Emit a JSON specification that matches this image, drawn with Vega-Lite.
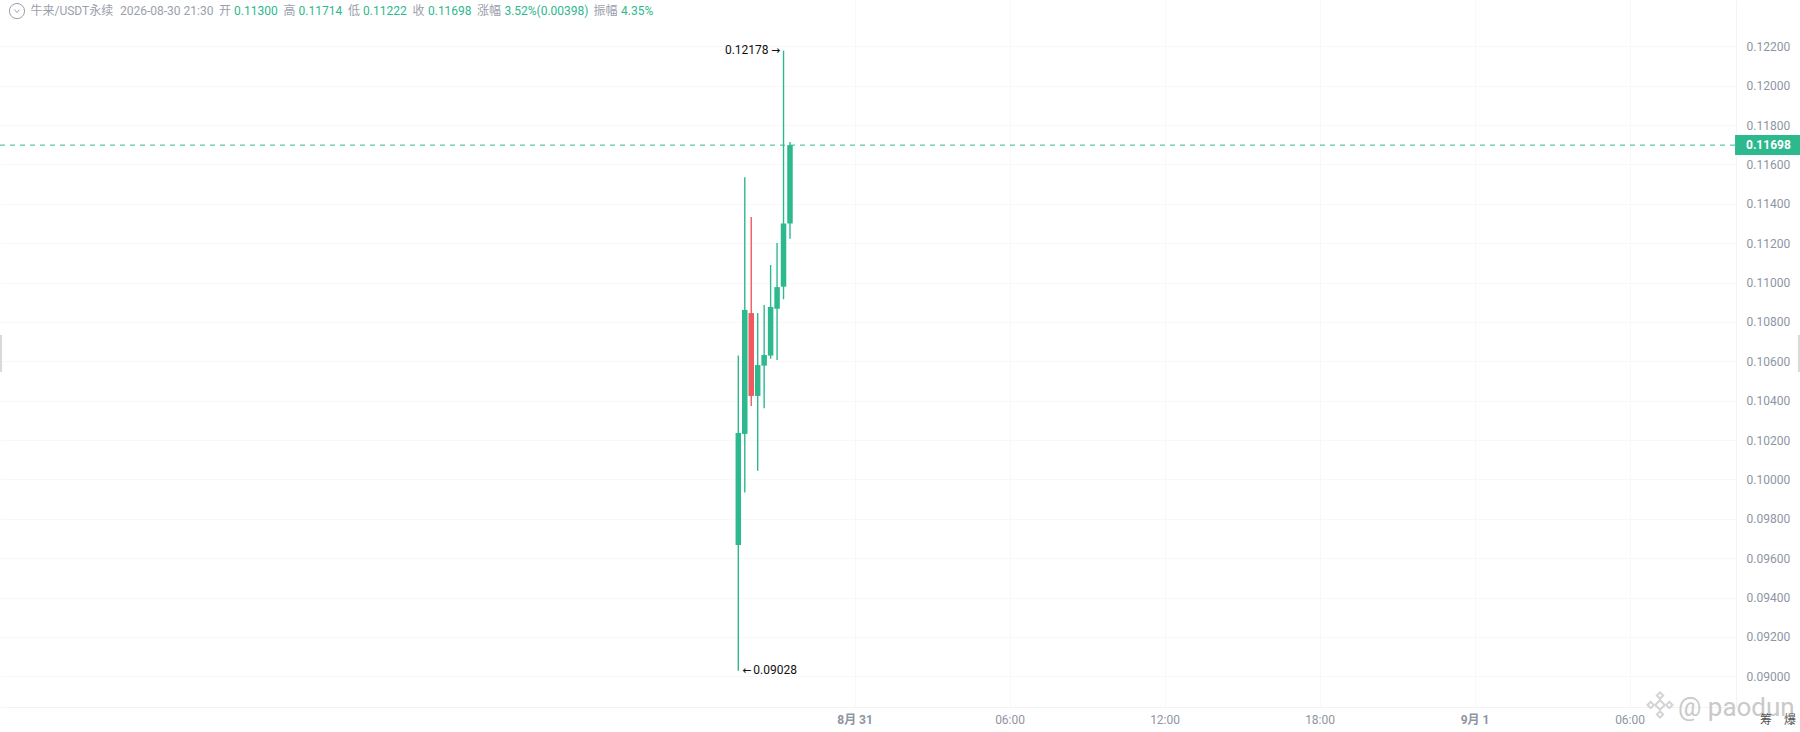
{
  "$schema": "https://vega.github.io/schema/vega-lite/v6.json",
  "description": "15 minute candles for 牛来/USDT perpetual",
  "width": 1736,
  "height": 707,
  "autosize": "none",
  "padding": {"left": 0, "top": 0, "right": 64, "bottom": 25},
  "background": "#ffffff",
  "config": {
    "view": {"stroke": null},
    "font": "Roboto, 'Noto Sans CJK SC'",
    "text": {"font": "Roboto, 'Noto Sans CJK SC'"}
  },
  "datasets": {
    "candles": [
      {"time": "2026-08-30T19:30:00Z", "open": 0.09667, "high": 0.1063, "low": 0.09028, "close": 0.10236, "dir": "up"},
      {"time": "2026-08-30T19:45:00Z", "open": 0.10231, "high": 0.11535, "low": 0.09933, "close": 0.10861, "dir": "up"},
      {"time": "2026-08-30T20:00:00Z", "open": 0.10845, "high": 0.11333, "low": 0.10373, "close": 0.10424, "dir": "down"},
      {"time": "2026-08-30T20:15:00Z", "open": 0.10424, "high": 0.10845, "low": 0.10044, "close": 0.10581, "dir": "up"},
      {"time": "2026-08-30T20:30:00Z", "open": 0.10578, "high": 0.10886, "low": 0.10361, "close": 0.10632, "dir": "up"},
      {"time": "2026-08-30T20:45:00Z", "open": 0.10629, "high": 0.11089, "low": 0.10613, "close": 0.10876, "dir": "up"},
      {"time": "2026-08-30T21:00:00Z", "open": 0.10867, "high": 0.11201, "low": 0.10607, "close": 0.10977, "dir": "up"},
      {"time": "2026-08-30T21:15:00Z", "open": 0.10979, "high": 0.12178, "low": 0.10915, "close": 0.113, "dir": "up"},
      {"time": "2026-08-30T21:30:00Z", "open": 0.113, "high": 0.11714, "low": 0.11222, "close": 0.11698, "dir": "up"}
    ],
    "lastPrice": [
      {"time": "2026-08-29T14:55:12Z", "end": "2026-09-01T10:07:12Z", "price": 0.11698}
    ],
    "blocks": [
      {"time": "2026-09-01T10:05:00Z", "end": "2026-09-01T12:37:00Z", "price": 0.117495, "price2": 0.11648, "kind": "tag"},
      {"time": "2026-08-29T14:55:12Z", "end": "2026-08-29T15:00:00Z", "price": 0.10734, "price2": 0.10546, "kind": "handle"},
      {"time": "2026-09-01T12:31:00Z", "end": "2026-09-01T12:37:00Z", "price": 0.10734, "price2": 0.10546, "kind": "handle"}
    ],
    "tagText": [
      {"time": "2026-09-01T10:07:12Z", "price": 0.11698, "label": "0.11698"}
    ],
    "extremes": [
      {"time": "2026-08-30T21:15:00Z", "price": 0.12178, "label": "0.12178", "arrow": "→", "side": "high"},
      {"time": "2026-08-30T19:30:00Z", "price": 0.09028, "label": "0.09028", "arrow": "←", "side": "low"}
    ],
    "header": [
      {"time": "2026-08-29T16:06:00Z", "price": 0.12379, "label": "牛来/USDT永续", "dir": "name"},
      {"time": "2026-08-29T19:33:54Z", "price": 0.12379, "label": "2026-08-30 21:30", "dir": "name"},
      {"time": "2026-08-29T23:23:48Z", "price": 0.12379, "label": "开", "dir": "name"},
      {"time": "2026-08-29T23:58:42Z", "price": 0.12379, "label": "0.11300", "dir": "up"},
      {"time": "2026-08-30T01:53:54Z", "price": 0.12379, "label": "高", "dir": "name"},
      {"time": "2026-08-30T02:28:30Z", "price": 0.12379, "label": "0.11714", "dir": "up"},
      {"time": "2026-08-30T04:23:30Z", "price": 0.12379, "label": "低", "dir": "name"},
      {"time": "2026-08-30T04:58:18Z", "price": 0.12379, "label": "0.11222", "dir": "up"},
      {"time": "2026-08-30T06:53:12Z", "price": 0.12379, "label": "收", "dir": "name"},
      {"time": "2026-08-30T07:29:12Z", "price": 0.12379, "label": "0.11698", "dir": "up"},
      {"time": "2026-08-30T09:23:06Z", "price": 0.12379, "label": "涨幅", "dir": "name"},
      {"time": "2026-08-30T10:26:42Z", "price": 0.12379, "label": "3.52%(0.00398)", "dir": "up"},
      {"time": "2026-08-30T13:53:42Z", "price": 0.12379, "label": "振幅", "dir": "name"},
      {"time": "2026-08-30T14:57:30Z", "price": 0.12379, "label": "4.35%", "dir": "up"}
    ],
    "icon": [
      {"time": "2026-08-29T15:34:42Z", "price": 0.12379}
    ],
    "logo": [
      {"time": "2026-09-01T07:10:42Z", "price": 0.08854, "part": "centre"},
      {"time": "2026-09-01T06:49:00Z", "price": 0.08854, "part": "outer"},
      {"time": "2026-09-01T07:32:24Z", "price": 0.08854, "part": "outer"},
      {"time": "2026-09-01T07:10:42Z", "price": 0.08902, "part": "outer"},
      {"time": "2026-09-01T07:10:42Z", "price": 0.08806, "part": "outer"}
    ],
    "watermark": [
      {"time": "2026-09-01T07:52:30Z", "price": 0.08839, "label": "@ paodun"}
    ],
    "corner": [
      {"time": "2026-09-01T11:02:54Z", "price": 0.08778, "label": "筹　爆"}
    ]
  },
  "encoding": {
    "x": {
      "field": "time",
      "type": "temporal",
      "title": null,
      "scale": {"type": "utc", "domain": [1788015312000, 1788257232000], "padding": 0},
      "axis": {
        "values": [1788134400000, 1788156000000, 1788177600000, 1788199200000, 1788220800000, 1788242400000],
        "labelExpr": "utchours(datum.value) == 0 ? (utcdate(datum.value) == 31 ? '8月 31' : '9月 1') : utcFormat(datum.value, '%H:%M')",
        "labelFontWeight": {"expr": "utchours(datum.value) == 0 ? 'bold' : 'normal'"},
        "labelColor": "#8e95a3",
        "labelFontSize": 12,
        "labelPadding": 7,
        "labelFlush": false,
        "labelOverlap": false,
        "ticks": false,
        "grid": true,
        "gridColor": "#f8f8f8",
        "domainColor": "#f3f3f3"
      }
    },
    "y": {
      "field": "price",
      "type": "quantitative",
      "title": null,
      "scale": {"domain": [0.08844, 0.124352], "nice": false, "zero": false},
      "axis": {
        "orient": "right",
        "values": [0.09, 0.092, 0.094, 0.096, 0.098, 0.1, 0.102, 0.104, 0.106, 0.108, 0.11, 0.112, 0.114, 0.116, 0.118, 0.12, 0.122],
        "format": ".5f",
        "labelColor": "#8e95a3",
        "labelFontSize": 12,
        "labelPadding": 10,
        "labelOverlap": false,
        "ticks": false,
        "grid": true,
        "gridColor": "#f8f8f8",
        "domainColor": "#f3f3f3"
      }
    }
  },
  "layer": [
    {
      "data": {"name": "lastPrice"},
      "mark": {"type": "rule", "color": "#2eb88e", "strokeWidth": 1, "strokeDash": [5, 5]},
      "encoding": {"x2": {"field": "end"}}
    },
    {
      "data": {"name": "candles"},
      "mark": {"type": "rule", "strokeWidth": 1.4},
      "encoding": {
        "y": {"field": "low", "type": "quantitative"},
        "y2": {"field": "high"},
        "color": {
          "field": "dir",
          "type": "nominal",
          "scale": {"domain": ["up", "down", "name"], "range": ["#2eb88e", "#ee5a60", "#9aa0ac"]},
          "legend": null
        }
      }
    },
    {
      "data": {"name": "candles"},
      "mark": {"type": "bar", "size": 5.5, "orient": "vertical"},
      "encoding": {
        "y": {"field": "open", "type": "quantitative"},
        "y2": {"field": "close"},
        "color": {"field": "dir", "type": "nominal", "legend": null}
      }
    },
    {
      "data": {"name": "blocks"},
      "transform": [{"filter": "datum.kind == 'handle'"}],
      "mark": {"type": "rect", "color": "#d9d9d9"},
      "encoding": {"x2": {"field": "end"}, "y2": {"field": "price2"}}
    },
    {
      "data": {"name": "blocks"},
      "transform": [{"filter": "datum.kind == 'tag'"}],
      "mark": {"type": "rect", "color": "#2eb88e"},
      "encoding": {"x2": {"field": "end"}, "y2": {"field": "price2"}}
    },
    {
      "data": {"name": "tagText"},
      "mark": {"type": "text", "align": "left", "dx": 10, "color": "#ffffff", "fontSize": 12, "fontWeight": "bold"},
      "encoding": {"text": {"field": "label"}}
    },
    {
      "data": {"name": "extremes"},
      "transform": [{"filter": "datum.side == 'high'"}],
      "mark": {"type": "text", "align": "right", "dx": -15, "dy": -1, "color": "#111111", "fontSize": 12},
      "encoding": {"text": {"field": "label"}}
    },
    {
      "data": {"name": "extremes"},
      "transform": [{"filter": "datum.side == 'high'"}],
      "mark": {"type": "text", "align": "right", "dx": -3, "dy": 0, "color": "#111111", "fontSize": 9, "fontWeight": "bold"},
      "encoding": {"text": {"field": "arrow"}}
    },
    {
      "data": {"name": "extremes"},
      "transform": [{"filter": "datum.side == 'low'"}],
      "mark": {"type": "text", "align": "left", "dx": 15, "dy": -1, "color": "#111111", "fontSize": 12},
      "encoding": {"text": {"field": "label"}}
    },
    {
      "data": {"name": "extremes"},
      "transform": [{"filter": "datum.side == 'low'"}],
      "mark": {"type": "text", "align": "left", "dx": 4, "dy": 0, "color": "#111111", "fontSize": 9, "fontWeight": "bold"},
      "encoding": {"text": {"field": "arrow"}}
    },
    {
      "data": {"name": "header"},
      "mark": {"type": "text", "align": "left", "fontSize": 12},
      "encoding": {
        "text": {"field": "label"},
        "color": {"field": "dir", "type": "nominal", "legend": null}
      }
    },
    {
      "data": {"name": "icon"},
      "mark": {"type": "point", "shape": "circle", "size": 230, "filled": false, "color": "#9aa0ac", "strokeWidth": 1, "opacity": 1}
    },
    {
      "data": {"name": "icon"},
      "mark": {"type": "point", "shape": "M-0.5,-0.3L0,0.3L0.5,-0.3", "size": 100, "filled": false, "color": "#9aa0ac", "strokeWidth": 1, "opacity": 1}
    },
    {
      "data": {"name": "logo"},
      "mark": {"type": "point", "shape": "diamond", "filled": false, "color": "#d4d4d4", "strokeWidth": 2, "opacity": 1},
      "encoding": {
        "size": {
          "field": "part",
          "type": "nominal",
          "scale": {"domain": ["centre", "outer"], "range": [90, 40]},
          "legend": null
        }
      }
    },
    {
      "data": {"name": "watermark"},
      "mark": {"type": "text", "align": "left", "color": "#c9c9c9", "fontSize": 26},
      "encoding": {"text": {"field": "label"}}
    },
    {
      "data": {"name": "corner"},
      "mark": {"type": "text", "align": "left", "color": "#555555", "fontSize": 12},
      "encoding": {"text": {"field": "label"}}
    }
  ]
}
